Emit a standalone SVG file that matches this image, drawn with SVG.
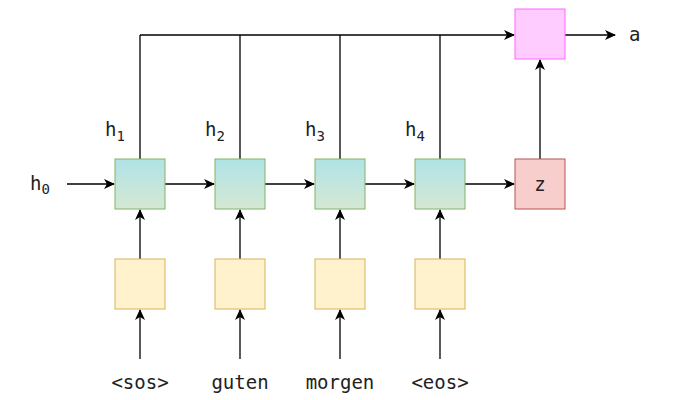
<svg xmlns="http://www.w3.org/2000/svg" width="698" height="400" viewBox="0 0 698 400">
<style>
text{font-family:"DejaVu Sans Mono","Liberation Mono",monospace;font-size:19px;fill:#222}
.enc{fill:url(#g);stroke:#82b366}
.emb{fill:#fff2cc;stroke:#d6b656}
.c{stroke:#000;stroke-width:1.3;fill:none}
.a{marker-end:url(#ar)}
</style>
<defs>
<linearGradient id="g" x1="0" y1="0" x2="0" y2="1"><stop offset="0" stop-color="#b0e3e6"/><stop offset="1" stop-color="#d5e8d4"/></linearGradient>
<marker id="ar" markerWidth="11" markerHeight="10" refX="10" refY="5" orient="auto" markerUnits="userSpaceOnUse"><path d="M0,0 L11,5 L0,10 L3,5 Z" fill="#000"/></marker>
</defs>
<g id="connectors">
<path class="c a" d="M67,184 H114"/>
<path class="c a" d="M165,184 H214"/>
<path class="c a" d="M265,184 H314"/>
<path class="c a" d="M365,184 H414"/>
<path class="c a" d="M465,184 H514"/>
<path class="c" d="M140,159 V35 M240,159 V35 M340,159 V35 M440,159 V35"/>
<path class="c a" d="M140,35 H514"/>
<path class="c a" d="M540,159 V60"/>
<path class="c a" d="M565,35 H615"/>
<path class="c a" d="M140,259 V210"/>
<path class="c a" d="M240,259 V210"/>
<path class="c a" d="M340,259 V210"/>
<path class="c a" d="M440,259 V210"/>
<path class="c a" d="M140,359 V310"/>
<path class="c a" d="M240,359 V310"/>
<path class="c a" d="M340,359 V310"/>
<path class="c a" d="M440,359 V310"/>
</g>
<g id="enc1"><rect class="enc" x="115" y="159" width="50" height="50"/></g>
<g id="enc2"><rect class="enc" x="215" y="159" width="50" height="50"/></g>
<g id="enc3"><rect class="enc" x="315" y="159" width="50" height="50"/></g>
<g id="enc4"><rect class="enc" x="415" y="159" width="50" height="50"/></g>
<g id="emb1"><rect class="emb" x="115" y="259" width="50" height="50"/></g>
<g id="emb2"><rect class="emb" x="215" y="259" width="50" height="50"/></g>
<g id="emb3"><rect class="emb" x="315" y="259" width="50" height="50"/></g>
<g id="emb4"><rect class="emb" x="415" y="259" width="50" height="50"/></g>
<g id="z"><rect x="515" y="159" width="50" height="50" fill="#f8cecc" stroke="#b85450"/><text x="540" y="191" text-anchor="middle">z</text></g>
<g id="out"><rect x="515" y="9" width="50" height="50" fill="#ffccff" stroke="#ff66ff"/></g>
<g id="labels">
<text x="30" y="190">h<tspan font-size="14" dy="4">0</tspan></text>
<text x="105" y="136">h<tspan font-size="14" dy="5">1</tspan></text>
<text x="205" y="136">h<tspan font-size="14" dy="5">2</tspan></text>
<text x="305" y="136">h<tspan font-size="14" dy="5">3</tspan></text>
<text x="405" y="136">h<tspan font-size="14" dy="5">4</tspan></text>
<text x="629" y="41">a</text>
<text x="140" y="389" text-anchor="middle">&lt;sos&gt;</text>
<text x="240" y="389" text-anchor="middle">guten</text>
<text x="340" y="389" text-anchor="middle">morgen</text>
<text x="440" y="389" text-anchor="middle">&lt;eos&gt;</text>
</g>
</svg>
